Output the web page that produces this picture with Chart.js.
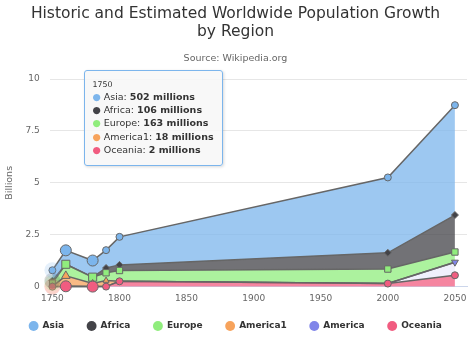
<!DOCTYPE html>
<html>
<head>
<meta charset="utf-8">
<script src="https://cdn.jsdelivr.net/npm/chart.js@4"></script>
<style>
  body { margin: 0; background: #fff; }
  #wrap { position: relative; width: 474px; height: 348px; }
  #tip {
    position: absolute; display: none; box-sizing: border-box;
    background: rgba(247, 247, 247, 0.85); border: 1px solid #7cb5ec; border-radius: 3px;
    box-shadow: 1px 1px 3px rgba(0, 0, 0, 0.15);
    font-family: 'DejaVu Sans', sans-serif; color: #333;
    padding: 8.7px 8px 8.5px 7px; white-space: nowrap; pointer-events: none;
  }
  #tip .hd { font-size: 7.9px; line-height: 10px; }
  #tip .row { font-size: 9.5px; line-height: 13.3px; }
</style>
</head>
<body>
<div id="wrap">
  <canvas id="chart" width="474" height="348"></canvas>
  <div id="tip"></div>
</div>
<script>
// population in millions, x = year
const years = [1750, 1760, 1780, 1790, 1800, 2000, 2050];
const asia = [502, 670, 800, 860, 1350, 3630, 5290];
const africa = [106, 0, 0, 230, 270, 780, 1780];
const europe = [163, 560, 305, 375, 520, 700, 490];
const america1 = [18, 500, 150, 290, 0, 0, 0];
const america = [0, 0, 0, 0, 0, 0, 630];
const oceania = [2, 20, 5, 5, 260, 150, 550];

const xTicks = [1750, 1800, 1850, 1900, 1950, 2000, 2050];
const yTicks = [0, 2500, 5000, 7500, 10000];

const FONT = "'DejaVu Sans', sans-serif";
const LEGEND_LIFT = 12;

function series(label, values, solid, fill, style, radii, fillTo, rotation) {
    return {
        label: label,
        data: years.map((x, i) => ({ x: x, y: values[i] })),
        solid: solid,
        borderColor: '#666666',
        borderWidth: 1.5,
        backgroundColor: fill,
        fill: fillTo,
        pointStyle: style,
        pointRotation: rotation || 0,
        pointRadius: radii,
        pointHoverRadius: radii,
        pointBackgroundColor: solid,
        pointHoverBackgroundColor: solid,
        pointBorderColor: '#666666',
        pointHoverBorderColor: '#666666',
        pointBorderWidth: 1,
        pointHoverBorderWidth: 1,
        tension: 0,
        clip: false
    };
}

// stacking goes bottom up, legend is reversed to match
const datasets = [
    series('Oceania', oceania, '#f15c80', 'rgba(241,92,128,0.75)', 'circle', [3.5, 5.5, 5.5, 3.5, 3.5, 3.5, 3.5], 'origin'),
    series('America', america, '#8085e9', 'rgba(128,133,233,0.12)', 'triangle', [0, 0, 0, 0, 0, 0, 4], '-1', 180),
    series('America1', america1, '#f7a35c', 'rgba(247,163,92,0.75)', 'triangle', [3.5, 5, 4, 3.5, 0, 0, 0], '-1'),
    series('Europe', europe, '#90ed7d', 'rgba(144,237,125,0.75)', 'rect', [4.2, 5.7, 5.7, 4.5, 4.5, 4.5, 4.5], '-1'),
    series('Africa', africa, '#434348', 'rgba(67,67,72,0.75)', 'rectRot', [3.5, 0, 0, 3.5, 3.5, 3.5, 3.5], '-1'),
    series('Asia', asia, '#7cb5ec', 'rgba(124,181,236,0.75)', 'circle', [3.5, 5.5, 5.5, 3.5, 3.5, 3.5, 3.5], '-1')
];

function drawTip(context) {
    const tip = document.getElementById('tip');
    const t = context.tooltip;
    if (t.opacity === 0 || !t.dataPoints || !t.dataPoints.length) {
        tip.style.display = 'none';
        return;
    }
    const pts = t.dataPoints.slice()
        .filter(p => p.raw.y > 0)
        .sort((a, b) => b.datasetIndex - a.datasetIndex);
    let html = '<div class="hd">' + pts[0].raw.x + '</div>';
    pts.forEach(p => {
        html += '<div class="row"><span style="color:' + p.dataset.solid + '">\u25CF</span> ' +
            p.dataset.label + ': <b>' + p.raw.y + ' millions</b></div>';
    });
    tip.innerHTML = html;
    tip.style.left = (t.caretX + 32) + 'px';
    tip.style.top = (context.chart.chartArea.top - 9) + 'px';
    tip.style.display = 'block';
}

// faint circle round hovered markers
const haloPlugin = {
    id: 'halo',
    afterDatasetsDraw(chart) {
        const ctx = chart.ctx;
        chart.getActiveElements().forEach(a => {
            const ds = chart.data.datasets[a.datasetIndex];
            const el = chart.getDatasetMeta(a.datasetIndex).data[a.index];
            ctx.save();
            ctx.globalAlpha = 0.2;
            ctx.fillStyle = ds.solid;
            ctx.beginPath();
            ctx.arc(el.x, el.y, 8, 0, Math.PI * 2);
            ctx.fill();
            ctx.restore();
        });
    }
};

// legend keeps wide item spacing but sits a bit higher
const liftLegend = {
    id: 'liftLegend',
    afterLayout(chart) {
        chart.legend.top -= LEGEND_LIFT;
        chart.legend.bottom -= LEGEND_LIFT;
    }
};

const chart = new Chart(document.getElementById('chart'), {
    type: 'line',
    data: { datasets: datasets },
    plugins: [haloPlugin, liftLegend],
    options: {
        responsive: false,
        animation: false,
        devicePixelRatio: 1,
        events: [],
        layout: { padding: { left: 4, right: 7, top: 0, bottom: 0 } },
        scales: {
            x: {
                type: 'linear',
                min: 1748,
                max: 2059,
                afterBuildTicks: axis => { axis.ticks = xTicks.map(v => ({ value: v })); },
                grid: { display: false, drawTicks: false },
                border: { display: true, color: '#ccd6eb' },
                ticks: {
                    color: '#666666',
                    font: { family: FONT, size: 9 },
                    padding: 6.5,
                    maxRotation: 0,
                    autoSkip: false,
                    callback: v => String(v)
                }
            },
            y: {
                stacked: true,
                min: 0,
                max: 10000,
                afterBuildTicks: axis => { axis.ticks = yTicks.map(v => ({ value: v })); },
                grid: { color: '#e6e6e6', drawTicks: false },
                border: { display: false },
                ticks: {
                    color: '#666666',
                    font: { family: FONT, size: 9 },
                    padding: 10,
                    callback: v => String(v / 1000)
                },
                title: {
                    display: true,
                    text: 'Billions',
                    color: '#666666',
                    font: { family: FONT, size: 9.5 },
                    padding: { top: 0, bottom: 0 }
                }
            }
        },
        plugins: {
            title: {
                display: true,
                text: ['Historic and Estimated Worldwide Population Growth', 'by Region'],
                color: '#333333',
                font: { family: FONT, size: 15.5, weight: 'normal', lineHeight: 1.2 },
                padding: { top: 4.5, bottom: 6 }
            },
            subtitle: {
                display: true,
                text: 'Source: Wikipedia.org',
                color: '#666666',
                font: { family: FONT, size: 9.5, lineHeight: 1.2 },
                padding: { top: 5.4, bottom: 14.5 }
            },
            legend: {
                position: 'bottom',
                reverse: true,
                maxHeight: 37.5,
                labels: {
                    usePointStyle: true,
                    pointStyle: 'circle',
                    boxWidth: 9.5,
                    boxHeight: 7,
                    padding: 23,
                    color: '#333333',
                    font: { family: FONT, size: 9, weight: 'bold' },
                    generateLabels: ch => ch.data.datasets.map((ds, i) => ({
                        text: ds.label,
                        fillStyle: ds.solid,
                        strokeStyle: ds.solid,
                        lineWidth: 0,
                        pointStyle: 'circle',
                        fontColor: '#333333',
                        hidden: !ch.isDatasetVisible(i),
                        datasetIndex: i
                    }))
                }
            },
            tooltip: {
                enabled: false,
                external: drawTip
            }
        }
    }
});

// show the 1750 tooltip as in the picture
const active = datasets
    .map((ds, i) => ({ datasetIndex: i, index: 0 }))
    .filter(a => datasets[a.datasetIndex].data[0].y > 0);
const first = chart.getDatasetMeta(active[0].datasetIndex).data[0];
chart.setActiveElements(active);
chart.tooltip.setActiveElements(active, { x: first.x, y: first.y });
chart.update();
</script>
</body>
</html>
